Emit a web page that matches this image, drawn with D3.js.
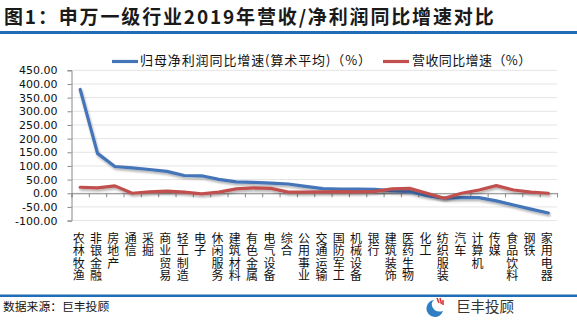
<!DOCTYPE html>
<html><head><meta charset="utf-8">
<script src="https://cdn.jsdelivr.net/npm/d3@7/dist/d3.min.js"></script>
<style>
html,body{margin:0;padding:0;background:#fff;}
svg{display:block;}
</style></head>
<body>
<script>
const categories = ["农林牧渔","非银金融","房地产","通信","采掘","商业贸易","轻工制造","电子","休闲服务","建筑材料","有色金属","电气设备","综合","公用事业","交通运输","国防军工","机械设备","银行","建筑装饰","医药生物","化工","纺织服装","汽车","计算机","传媒","食品饮料","钢铁","家用电器"];
const profitGrowth = [380,146,98,93,87,80,65,64,51,42,40,37,34,25,17,15,15,14,9,6,-9,-18,-16,-16,-28,-43,-58,-72];
const revenueGrowth = [22,20,27,0,5,8,4,-2,4,16,20,18,4,4,5,6,5,7,16,18,0,-18,0,12,28,12,4,0];
const yTicks = [-100,-50,0,50,100,150,200,250,300,350,400,450];
const seriesNames = ["归母净利润同比增速(算术平均)（%）","营收同比增速（%）"];
const seriesColors = ["#4575b9","#c0504d"];
const titleText = "图1：申万一级行业2019年营收/净利润同比增速对比";
const sourceText = "数据来源：巨丰投顾";
const logoText = "巨丰投顾";

const W = 577, H = 331;
const cjk = "'Noto Sans CJK SC','Noto Sans',sans-serif";
const svg = d3.select("body").append("svg").attr("width", W).attr("height", H);

const defs = svg.append("defs");
const f = defs.append("filter").attr("id","sh").attr("x","-10%").attr("y","-10%").attr("width","130%").attr("height","140%");
f.append("feDropShadow").attr("dx",1).attr("dy",2).attr("stdDeviation",1.3).attr("flood-color","#000").attr("flood-opacity",0.3);

// title
svg.append("text").attr("x",4).attr("y",23.5).attr("font-family",cjk).attr("font-weight","bold")
  .attr("font-size",19).attr("letter-spacing",1.85).attr("fill","#1a1a1a").text(titleText);
svg.append("rect").attr("x",0).attr("y",31).attr("width",W).attr("height",3).attr("fill","#1f6db5");
svg.append("rect").attr("x",0).attr("y",294.5).attr("width",W).attr("height",2.5).attr("fill","#1f6db5");

const x0 = 71.5, x1 = 557;
const y = d3.scaleLinear().domain([-100,450]).range([220.6,70.3]);
const xb = d3.scaleBand().domain(categories).range([x0,x1]).padding(0);
const xi = d3.scaleLinear().domain([0,categories.length]).range([x0,x1]);

// gridlines
svg.append("g").selectAll("line").data(yTicks).join("line")
  .attr("x1",x0).attr("x2",x1).attr("y1",d=>y(d)).attr("y2",d=>y(d))
  .attr("stroke","#e4e4e4").attr("stroke-width",1);

// y axis
const ya = svg.append("g").attr("transform",`translate(${x0},0)`)
  .call(d3.axisLeft(y).tickValues(yTicks).tickSize(4).tickPadding(10).tickFormat(d=>d.toFixed(2)));
ya.select(".domain").attr("stroke","#888");
ya.selectAll(".tick line").attr("stroke","#888");
ya.selectAll("text").attr("font-family","'DejaVu Sans',sans-serif").attr("font-size",11).attr("fill","#111");

// x axis at zero
const xa = svg.append("g").attr("transform",`translate(0,${y(0)})`)
  .call(d3.axisBottom(xi).tickValues(d3.range(0,categories.length+1)).tickSize(4).tickFormat(""));
xa.select(".domain").attr("stroke","#888");
xa.selectAll(".tick line").attr("stroke","#888");

// x labels (vertical writing)
svg.append("g").selectAll("text").data(categories).join("text")
  .attr("x",d=>xb(d)+xb.bandwidth()/2 - 1.5).attr("y",232)
  .attr("font-family",cjk).attr("font-size",12).attr("fill","#111")
  .style("writing-mode","vertical-rl").style("text-orientation","upright")
  .attr("letter-spacing",0.6)
  .text(d=>d);

// lines
const line = d3.line().x((d,i)=>xb(categories[i])+xb.bandwidth()/2).y(d=>y(d)).curve(d3.curveLinear);
[profitGrowth,revenueGrowth].forEach((s,k)=>{
  svg.append("path").datum(s).attr("d",line).attr("fill","none")
    .attr("stroke",seriesColors[k]).attr("stroke-width",3.2)
    .attr("stroke-linejoin","round").attr("stroke-linecap","round").attr("filter","url(#sh)");
});

// legend
const leg = [{x:112,tx:140},{x:383,tx:412}];
leg.forEach((l,k)=>{
  svg.append("line").attr("x1",l.x).attr("x2",l.x+26).attr("y1",61.5).attr("y2",61.5)
    .attr("stroke",seriesColors[k]).attr("stroke-width",3.2);
  svg.append("text").attr("x",l.tx).attr("y",65).attr("font-family",cjk).attr("font-size",13)
    .attr("letter-spacing",k===0?0.9:0.4).attr("fill","#111").text(seriesNames[k]);
});

// footer
svg.append("text").attr("x",3).attr("y",310.5).attr("font-family",cjk).attr("font-size",11.8)
  .attr("fill","#111").text(sourceText);
svg.append("text").attr("x",456).attr("y",311.5).attr("font-family",cjk).attr("font-size",14.5)
  .attr("fill","#333").text(logoText);
// logo icon
const lg = svg.append("g").attr("transform","translate(436,307)");
lg.append("path").attr("d","M -2,-7 A 8.5 8.5 0 1 0 7,4 Q 0,6 -3,1 Q -6,-4 -2,-7 Z").attr("fill","#2e7fc4");
lg.append("path").attr("d","M 0,-4 Q 5,-2 8,3").attr("stroke","#fff").attr("stroke-width",1.5).attr("fill","none");
lg.append("line").attr("x1",1).attr("y1",-9).attr("x2",3).attr("y2",-4).attr("stroke","#d33").attr("stroke-width",1.6);
lg.append("line").attr("x1",4).attr("y1",-9).attr("x2",5.5).attr("y2",-3).attr("stroke","#d33").attr("stroke-width",1.6);
lg.append("line").attr("x1",7).attr("y1",-7).attr("x2",7).attr("y2",-2).attr("stroke","#d33").attr("stroke-width",1.6);
</script>
</body></html>
